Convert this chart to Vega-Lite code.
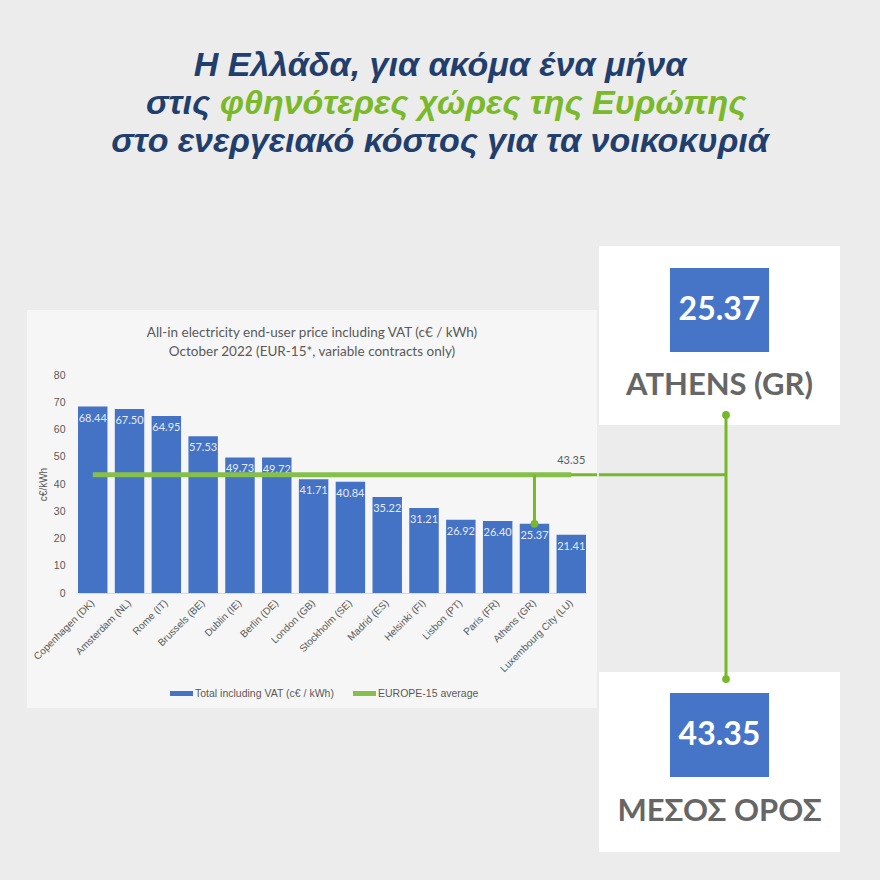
{
  "$schema": "https://vega.github.io/schema/vega-lite/v6.json",
  "background": "#ececec",
  "padding": {"left": 27, "top": 0, "right": 42, "bottom": 28},
  "spacing": 0,
  "config": {"view": {"stroke": null}, "font": "Lato"},
  "vconcat": [
    {
      "width": 826,
      "height": 246,
      "view": {"fill": null, "stroke": null},
      "data": {"values": [
        {"line": "1", "seg": "a", "text": "Η Ελλάδα, για ακόμα ένα μήνα"},
        {"line": "2", "seg": "b", "text": "στις"},
        {"line": "2", "seg": "c", "text": "φθηνότερες χώρες της Ευρώπης"},
        {"line": "3", "seg": "a", "text": "στο ενεργειακό κόστος για τα νοικοκυριά"}
      ]},
      "encoding": {
        "y": {"field": "line", "type": "nominal", "scale": {"type": "point", "domain": ["1", "2", "3"], "range": [76, 152], "padding": 0}, "axis": null},
        "text": {"field": "text"}
      },
      "layer": [
        {"transform": [{"filter": "datum.seg == 'a'"}], "mark": {"type": "text", "font": "Liberation Sans", "fontSize": 34, "fontStyle": "italic", "fontWeight": "bold", "color": "#213e6c", "align": "center", "baseline": "alphabetic"}},
        {"transform": [{"filter": "datum.seg == 'b'"}], "mark": {"type": "text", "font": "Liberation Sans", "fontSize": 34, "fontStyle": "italic", "fontWeight": "bold", "color": "#213e6c", "align": "right", "baseline": "alphabetic", "dx": -230}},
        {"transform": [{"filter": "datum.seg == 'c'"}], "mark": {"type": "text", "font": "Liberation Sans", "fontSize": 34, "fontStyle": "italic", "fontWeight": "bold", "color": "#7ab929", "align": "left", "baseline": "alphabetic", "dx": -220}}
      ]
    },
    {
      "hconcat": [
        {
          "vconcat": [
            {"width": 570, "height": 64, "view": {"fill": null, "stroke": null}, "data": {"values": []}, "mark": "text"},
            {
              "width": 570,
              "height": 398,
              "view": {"fill": "#f6f6f6", "stroke": null},
              "title": {"text": ["All-in electricity end-user price including VAT (c€ / kWh)", "October 2022 (EUR-15*, variable contracts only)"], "orient": "top", "anchor": "middle", "offset": -48, "baseline": "top", "font": "Lato", "fontSize": 13.5, "fontWeight": "normal", "color": "#595959", "lineHeight": 19},
              "data": {"values": [
                {"city": "Copenhagen (DK)", "value": 68.44, "avg": 43.35},
                {"city": "Amsterdam (NL)", "value": 67.50, "avg": 43.35},
                {"city": "Rome (IT)", "value": 64.95, "avg": 43.35},
                {"city": "Brussels (BE)", "value": 57.53, "avg": 43.35},
                {"city": "Dublin (IE)", "value": 49.73, "avg": 43.35},
                {"city": "Berlin (DE)", "value": 49.72, "avg": 43.35},
                {"city": "London (GB)", "value": 41.71, "avg": 43.35},
                {"city": "Stockholm (SE)", "value": 40.84, "avg": 43.35},
                {"city": "Madrid (ES)", "value": 35.22, "avg": 43.35},
                {"city": "Helsinki (FI)", "value": 31.21, "avg": 43.35},
                {"city": "Lisbon (PT)", "value": 26.92, "avg": 43.35},
                {"city": "Paris (FR)", "value": 26.40, "avg": 43.35},
                {"city": "Athens (GR)", "value": 25.37, "avg": 43.35},
                {"city": "Luxembourg City (LU)", "value": 21.41, "avg": 43.35}
              ]},
              "encoding": {
                "x": {"field": "city", "type": "nominal", "sort": null,
                  "scale": {"range": [51, 559], "paddingInner": 0.2, "paddingOuter": 0},
                  "axis": {"title": null, "orient": "bottom", "offset": -115, "domain": true, "domainColor": "#d9d9d9", "ticks": false, "labelAngle": -45, "labelAlign": "right", "labelBaseline": "middle", "labelPadding": 8, "labelFont": "Liberation Sans", "labelFontSize": 10, "labelColor": "#595959"}}
              },
              "layer": [
                {
                  "mark": {"type": "bar", "color": "#4472c4"},
                  "encoding": {
                    "y": {"field": "value", "type": "quantitative", "title": "c€/kWh",
                      "scale": {"domain": [0, 80], "range": [283, 65], "nice": false},
                      "axis": {"orient": "left", "offset": -42, "domain": false, "ticks": false, "grid": false, "values": [0, 10, 20, 30, 40, 50, 60, 70, 80], "labelPadding": 4, "labelFont": "Liberation Sans", "labelFontSize": 10.5, "labelColor": "#595959", "titleFont": "Liberation Sans", "titleFontSize": 10, "titleFontWeight": "normal", "titleColor": "#595959", "titlePadding": 5}},
                    "color": {"datum": "Total including VAT (c€ / kWh)", "type": "nominal",
                      "scale": {"domain": ["Total including VAT (c€ / kWh)", "EUROPE-15 average"], "range": ["#4472c4", "#86c04a"]},
                      "legend": {"orient": "none", "legendX": 143, "legendY": 682, "direction": "horizontal", "title": null, "symbolType": "M-1,-0.22H1V0.22H-1Z", "symbolSize": 529, "symbolStrokeWidth": 0, "labelFont": "Liberation Sans", "labelFontSize": 10.5, "labelColor": "#595959", "columnPadding": 18, "labelOffset": 2}}
                  }
                },
                {
                  "mark": {"type": "text", "color": "#e4ebf7", "fontSize": 11, "font": "Lato", "baseline": "middle", "dy": 12},
                  "encoding": {
                    "y": {"field": "value", "type": "quantitative", "title": "c€/kWh"},
                    "text": {"field": "value", "type": "quantitative", "format": ".2f"}
                  }
                },
                {
                  "transform": [{"filter": "datum.city == 'Athens (GR)'"}],
                  "mark": {"type": "rule", "color": "#76b82a", "strokeWidth": 3},
                  "encoding": {
                    "y": {"field": "avg", "type": "quantitative", "title": "c€/kWh"},
                    "x2": {"value": "width"}
                  }
                },
                {
                  "mark": {"type": "line", "strokeWidth": 5},
                  "encoding": {
                    "y": {"field": "avg", "type": "quantitative", "title": "c€/kWh"},
                    "color": {"datum": "EUROPE-15 average", "type": "nominal"}
                  }
                },
                {
                  "transform": [{"filter": "datum.city == 'Luxembourg City (LU)'"}],
                  "mark": {"type": "text", "color": "#595959", "fontSize": 11, "font": "Lato", "baseline": "middle", "dy": -14},
                  "encoding": {
                    "y": {"field": "avg", "type": "quantitative", "title": "c€/kWh"},
                    "text": {"field": "avg", "type": "quantitative", "format": ".2f"}
                  }
                },
                {
                  "transform": [{"filter": "datum.city == 'Athens (GR)'"}],
                  "mark": {"type": "rule", "color": "#76b82a", "strokeWidth": 3},
                  "encoding": {
                    "y": {"field": "avg", "type": "quantitative", "title": "c€/kWh"},
                    "y2": {"field": "value"}
                  }
                },
                {
                  "transform": [{"filter": "datum.city == 'Athens (GR)'"}],
                  "mark": {"type": "point", "filled": true, "size": 60, "color": "#76b82a", "opacity": 1},
                  "encoding": {
                    "y": {"field": "value", "type": "quantitative", "title": "c€/kWh"}
                  }
                }
              ]
            }
          ],
          "spacing": 0
        },
        {
          "vconcat": [
            {
              "width": 241,
              "height": 179,
              "view": {"fill": "#ffffff", "stroke": null},
              "data": {"values": [
                {"part": "value", "value": 25.37},
                {"part": "label", "label": "ATHENS (GR)"}
              ]},
              "encoding": {
                "y": {"field": "part", "type": "nominal", "scale": {"type": "point", "domain": ["value", "label"], "range": [64, 140], "padding": 0}, "axis": null}
              },
              "layer": [
                {"transform": [{"filter": "datum.part == 'value'"}], "mark": {"type": "point", "shape": "M-1.18,-1H1.18V1H-1.18Z", "size": 7056, "filled": true, "color": "#4674c6", "opacity": 1, "strokeWidth": 0}},
                {"transform": [{"filter": "datum.part == 'value'"}], "mark": {"type": "text", "font": "Lato", "fontSize": 32, "fontWeight": "bold", "color": "#ffffff", "baseline": "middle"}, "encoding": {"text": {"field": "value", "type": "quantitative", "format": ".2f"}}},
                {"transform": [{"filter": "datum.part == 'label'"}], "mark": {"type": "text", "font": "Lato", "fontSize": 31, "fontWeight": "bold", "color": "#666666", "baseline": "middle"}, "encoding": {"text": {"field": "label"}}}
              ]
            },
            {
              "width": 241,
              "height": 180,
              "view": {"fill": "#ffffff", "stroke": null},
              "data": {"values": [
                {"part": "value", "value": 43.35},
                {"part": "label", "label": "ΜΕΣΟΣ ΟΡΟΣ"}
              ]},
              "resolve": {"scale": {"y": "independent"}},
              "layer": [
                {
                  "encoding": {
                    "y": {"field": "part", "type": "nominal", "scale": {"type": "point", "domain": ["value", "label"], "range": [63, 140], "padding": 0}, "axis": null}
                  },
                  "layer": [
                    {"transform": [{"filter": "datum.part == 'value'"}], "mark": {"type": "point", "shape": "M-1.18,-1H1.18V1H-1.18Z", "size": 7056, "filled": true, "color": "#4674c6", "opacity": 1, "strokeWidth": 0}},
                    {"transform": [{"filter": "datum.part == 'value'"}], "mark": {"type": "text", "font": "Lato", "fontSize": 32, "fontWeight": "bold", "color": "#ffffff", "baseline": "middle"}, "encoding": {"text": {"field": "value", "type": "quantitative", "format": ".2f"}}},
                    {"transform": [{"filter": "datum.part == 'label'"}], "mark": {"type": "text", "font": "Lato", "fontSize": 31, "fontWeight": "bold", "color": "#666666", "baseline": "middle"}, "encoding": {"text": {"field": "label"}}}
                  ]
                },
                {
                  "transform": [{"filter": "datum.part == 'value'"}],
                  "mark": {"type": "rule", "color": "#76b82a", "strokeWidth": 3},
                  "encoding": {
                    "y": {"field": "value", "type": "quantitative", "scale": {"domain": [0, 80], "range": [-79, -297], "nice": false, "zero": false}, "axis": null},
                    "x": {"datum": 0, "type": "quantitative", "scale": {"domain": [0, 1]}, "axis": null},
                    "x2": {"datum": 0.527}
                  }
                },
                {
                  "transform": [{"filter": "datum.part == 'value'"}],
                  "encoding": {
                    "x": {"datum": 0.527, "type": "quantitative", "scale": {"domain": [0, 1]}, "axis": null}
                  },
                  "layer": [
                    {"mark": {"type": "rule", "color": "#76b82a", "strokeWidth": 3},
                     "encoding": {"y": {"datum": -1.428, "type": "quantitative", "scale": {"domain": [0, 1], "reverse": true, "nice": false, "zero": false}, "axis": null}, "y2": {"datum": 0.039}}},
                    {"mark": {"type": "point", "filled": true, "size": 60, "color": "#76b82a", "opacity": 1},
                     "encoding": {"y": {"datum": -1.428, "type": "quantitative"}}},
                    {"mark": {"type": "point", "filled": true, "size": 60, "color": "#76b82a", "opacity": 1},
                     "encoding": {"y": {"datum": 0.039, "type": "quantitative"}}}
                  ]
                }
              ]
            }
          ],
          "spacing": 247,
          "bounds": "flush"
        }
      ],
      "spacing": -4
    }
  ]
}
